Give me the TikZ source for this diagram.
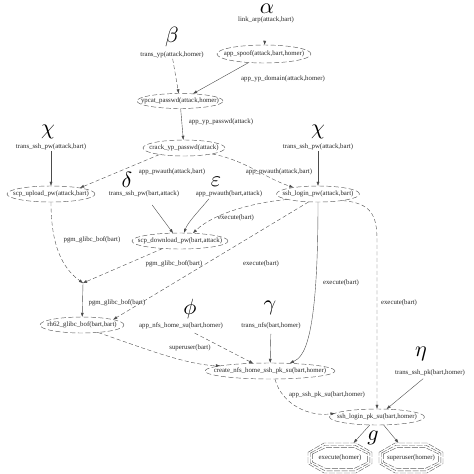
\documentclass[tikz,border=0pt]{standalone}
\usepackage{fontspec}
\setmainfont{Liberation Serif}
\usetikzlibrary{shapes.geometric,arrows.meta,calc}
\newcommand\grkbig[1]{\scalebox{2.2}{$#1$}}
\begin{document}
\begin{tikzpicture}[x=1pt,y=-1pt,
 lbl/.style={inner sep=0.5pt, font=\fontsize{6.8}{7}\selectfont, text=black!85},
 grk/.style={inner sep=0pt},
 ell/.style={ellipse, draw=black!65, line width=0.45pt, dash pattern=on 5pt off 2.5pt, inner sep=0pt},
 e/.style={draw=black!70, line width=0.4pt, -{Triangle[length=4pt,width=2.8pt]}},
 de/.style={e, dash pattern=on 4pt off 2.5pt},
 octbox/.style={rectangle, minimum width=64pt, minimum height=30pt, inner sep=0pt},
 octl/.style={draw=black!65, line width=0.4pt, dash pattern=on 6pt off 1.5pt},
 octa/.pic={\foreach \d in {0,2.2,4.4}{
   \draw[octl] ({-(32-\d)},{-0.38*(15-\d)}) -- ({-0.5*(32-\d)},{-(15-\d)}) -- ({0.5*(32-\d)},{-(15-\d)})
     -- ({32-\d},{-0.38*(15-\d)}) -- ({32-\d},{0.38*(15-\d)}) -- ({0.5*(32-\d)},{15-\d})
     -- ({-0.5*(32-\d)},{15-\d}) -- ({-(32-\d)},{0.38*(15-\d)}) -- cycle;}}
]
\useasboundingbox (0,0) rectangle (474,474);

% Greek letters
\node[grk] (alpha) at (267,8.5) {\grkbig{\alpha}};
\node[grk] (beta) at (172,37) {\grkbig{\beta}};
\node[grk] (chiL) at (48,132) {\grkbig{\chi}};
\node[grk] (chiR) at (318,132) {\grkbig{\chi}};
\node[grk] (delta) at (127,180) {\grkbig{\delta}};
\node[grk] (eps) at (216,182) {\grkbig{\varepsilon}};
\node[grk] (phi) at (190,309) {\grkbig{\phi}};
\node[grk] (gam) at (270,308) {\grkbig{\gamma}};
\node[grk] (eta) at (421,354) {\grkbig{\eta}};
\node[grk] (gg) at (373,438) {\grkbig{g}};

% plain text nodes
\node[lbl] (linkarp) at (266,20) {link\_arp(attack,bart)};
\node[lbl] (transyp) at (172,55) {trans\_yp(attack,homer)};
\node[lbl] (chiLt) at (51,147) {trans\_ssh\_pw(attack,bart)};
\node[lbl] (chiRt) at (318,147) {trans\_ssh\_pw(attack,bart)};
\node[lbl] (deltat) at (144,194) {trans\_ssh\_pw(bart,attack)};
\node[lbl] (epst) at (229,194) {app\_pwauth(bart,attack)};
\node[lbl] (phit) at (181,326) {app\_nfs\_home\_su(bart,homer)};
\node[lbl] (gamt) at (271,326) {trans\_nfs(bart,homer)};
\node[lbl] (etat) at (430,373) {trans\_ssh\_pk(bart,homer)};

% edge labels
\node[lbl] (l1) at (283,79) {app\_yp\_domain(attack,homer)};
\node[lbl] (l2) at (221,122) {app\_yp\_passwd(attack)};
\node[lbl] (l3) at (172,172) {app\_pwauth(attack,bart)};
\node[lbl] (l4) at (279,172) {app\_pwauth(attack,bart)};
\node[lbl] (l5) at (236,218) {execute(bart)};
\node[lbl] (l6) at (92,240) {pgm\_glibc\_bof(bart)};
\node[lbl] (l7) at (174,264) {pgm\_glibc\_bof(bart)};
\node[lbl] (l8) at (261,264) {execute(bart)};
\node[lbl] (l9) at (341,283) {execute(bart)};
\node[lbl] (l10) at (117,303) {pgm\_glibc\_bof(bart)};
\node[lbl] (l11) at (399,303) {execute(bart)};
\node[lbl] (l12) at (190,348) {superuser(bart)};
\node[lbl] (l13) at (327,395) {app\_ssh\_pk\_su(bart,homer)};

% ellipse nodes
\node[ell, minimum width=94pt, minimum height=18pt] (spoof) at (264,54) {};
\node[lbl] (spoofT) at (spoof) {app\_spoof(attack,bart,homer)};
\node[ell, minimum width=86pt, minimum height=15pt] (ypcat) at (180,101) {};
\node[lbl] (ypcatT) at (ypcat) {ypcat\_passwd(attack,homer)};
\node[ell, minimum width=82pt, minimum height=16pt] (crack) at (184,148) {};
\node[lbl] (crackT) at (crack) {crack\_yp\_passwd(attack)};
\node[ell, minimum width=88pt, minimum height=16pt] (upload) at (51,194) {};
\node[lbl] (uploadT) at (upload) {scp\_upload\_pw(attack,bart)};
\node[ell, minimum width=83pt, minimum height=16pt] (login) at (318,194) {};
\node[lbl] (loginT) at (login) {ssh\_login\_pw(attack,bart)};
\node[ell, minimum width=96pt, minimum height=16pt] (download) at (180,241) {};
\node[lbl] (downloadT) at (download) {scp\_download\_pw(bart,attack)};
\node[ell, minimum width=84pt, minimum height=16pt] (ssh7) at (82,325) {};
\node[lbl] (ssh7T) at (ssh7) {rh62\_glibc\_bof(bart,bart)};
\node[ell, minimum width=130pt, minimum height=16pt] (create) at (270,371) {};
\node[lbl] (createT) at (create) {create\_nfs\_home\_ssh\_pk\_su(bart,homer)};
\node[ell, minimum width=95pt, minimum height=16pt] (pk) at (377,417) {};
\node[lbl] (pkT) at (pk) {ssh\_login\_pk\_su(bart,homer)};

% octagon goal nodes
\node[octbox] (exec) at (340,458) {};
\pic at (exec) {octa};
\node[lbl] (execT) at (exec) {execute(homer)};
\node[octbox] (super) at (411,458) {};
\pic at (super) {octa};
\node[lbl] (superT) at (super) {superuser(homer)};

\coordinate (j) at (83,283);

% connectors
\draw[e, shorten <=18pt] (linkarp) -- (spoof);
\draw[de] (transyp) -- (ypcat);
\draw[e] (spoof) -- (ypcat);
\draw[e] (ypcat) -- (crack);
\draw[e] (chiLt) -- (upload);
\draw[e] (chiRt) -- (login);
\draw[de] (crack.195) -- (upload.12);
\draw[de] (crack.-12) .. controls (245,160) and (265,178) .. (login.165);
\draw[e, shorten <=9pt] (deltat) -- ($(download.north)+(-7,0.3)$);
\draw[e] ($(epst.south)+(-20,1)$) .. controls (198,212) and (188,222) .. ($(download.north)+(4,0)$);
\draw[de] (login.190) .. controls (258,202) and (215,212) .. ($(download.north)+(13,0.3)$);
\draw[de] (upload.south) .. controls (51,245) and (62,268) .. (j);
\draw[de] (download) -- (j);
\draw[e] (j) -- (ssh7);
\draw[de] (login.220) -- (ssh7.10);
\draw[e] (login.south) .. controls (318,345) and (303,357) .. ($(create.north)+(20,0.4)$);
\draw[de] (login.-15) .. controls (371,203) and (377,215) .. (377,240) -- (pk.north);
\draw[de] (ssh7.-25) .. controls (135,345) and (185,365) .. (create.174);
\draw[de, shorten <=7pt] (phit) -- ($(create.north)+(-17,0.5)$);
\draw[e, shorten <=4pt] (gamt) -- (create);
\draw[de] ($(create.south)+(5,0)$) .. controls (282,405) and (310,417) .. (pk.175);
\draw[e, shorten <=3pt] (etat) -- (pk);
\draw[e] (pk) -- (exec);
\draw[e] (pk) -- (super);
\end{tikzpicture}
\end{document}
